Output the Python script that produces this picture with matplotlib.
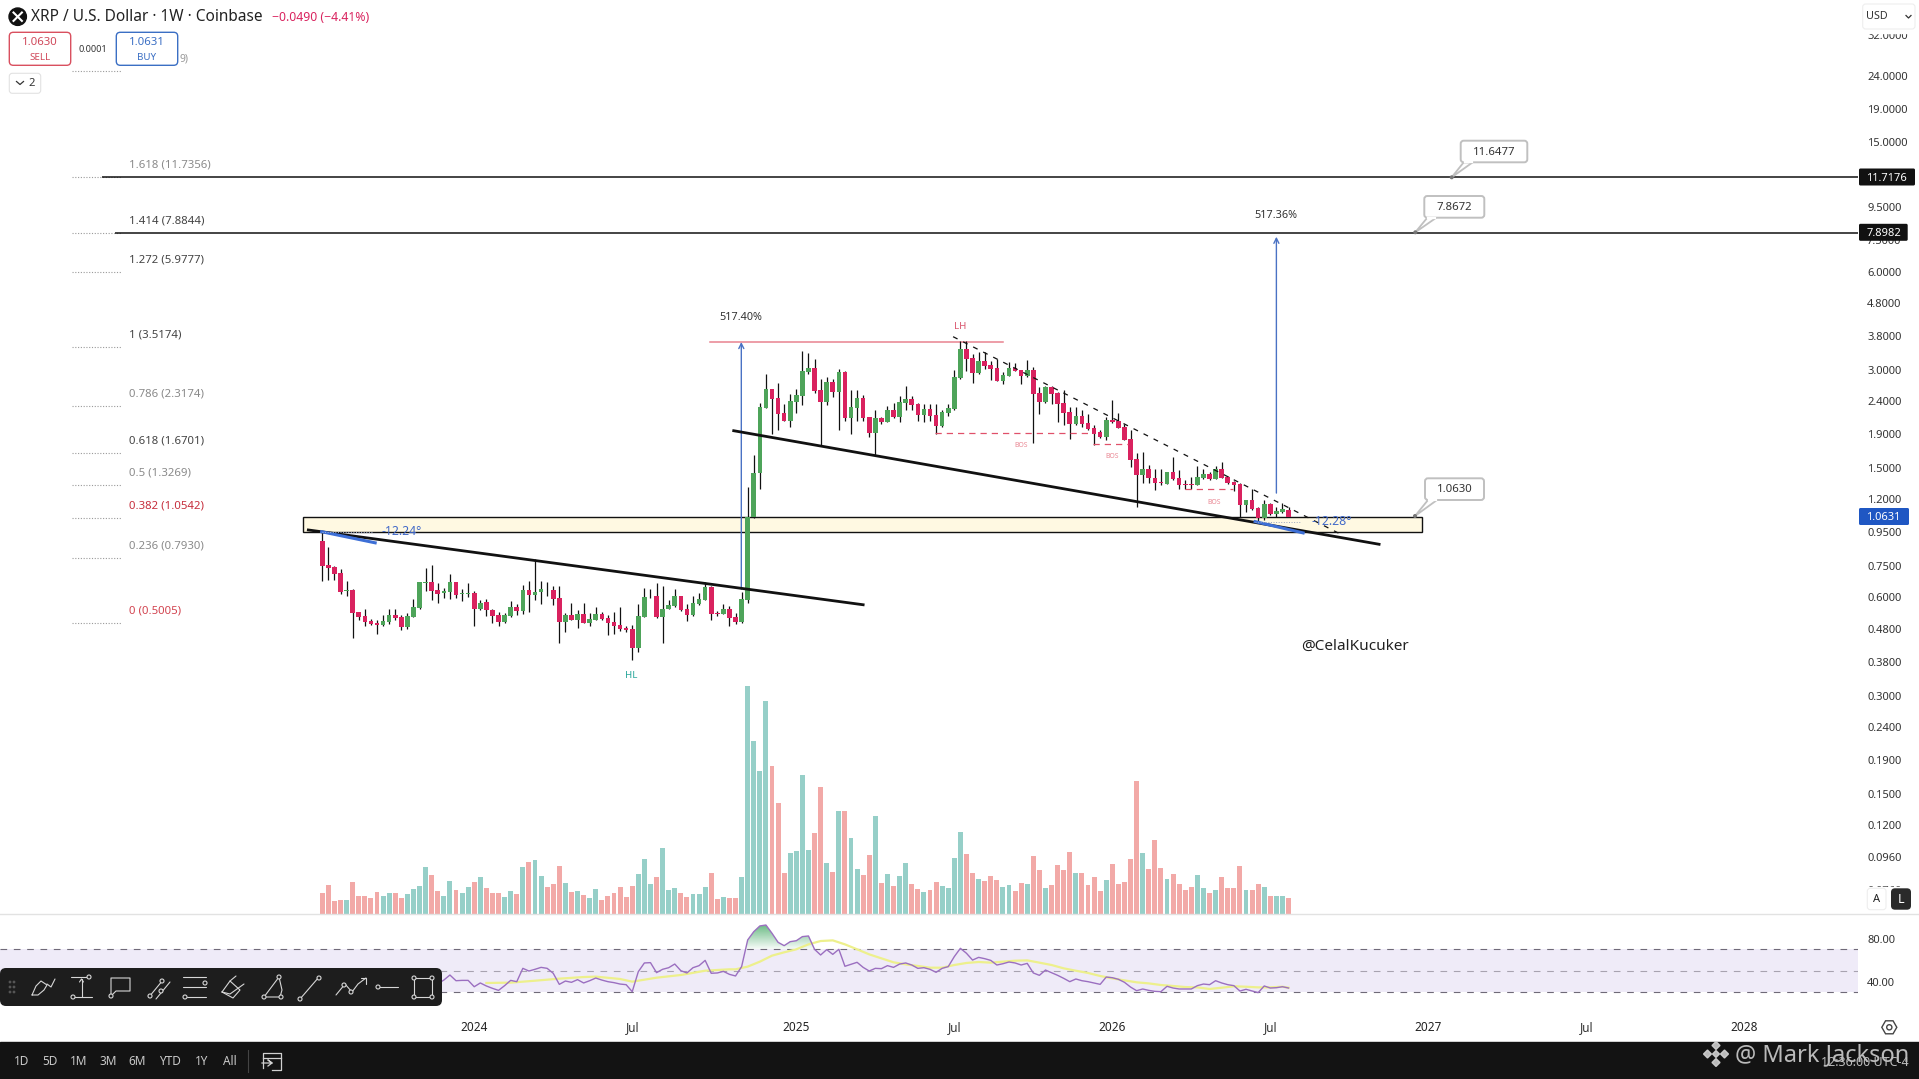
import numpy as np
import matplotlib
matplotlib.use('Agg')
import matplotlib.pyplot as plt
import matplotlib.ticker as ticker
from matplotlib.patches import FancyBboxPatch, Rectangle, Circle, Polygon, RegularPolygon
from matplotlib.path import Path

plt.rcParams['font.family'] = ['Noto Sans', 'DejaVu Sans']

# weekly candles
candle_open = [
    .894, .755, .746, .711, .629, .632, .541, .526, .508, .501,
    .494, .505, .530, .524, .487, .524, .557, .666, .669, .632,
    .619, .623, .669, .616, .616, .619, .552, .581, .549, .530,
    .505, .526, .561, .545, .632, .610, .622, .639, .632, .597,
    .506, .530, .512, .533, .502, .512, .533, .519, .505, .493,
    .483, .480, .421, .522, .601, .606, .522, .553, .565, .606,
    .552, .530, .572, .589, .647, .537, .533, .553, .522, .505,
    .589, 1.057, 1.443, 2.295, 2.62, 2.457, 2.204, 2.088, 2.388, 2.49,
    2.95, 3.036, 2.60, 2.388, 2.75, 2.56, 2.95, 2.133, 2.29, 2.457,
    2.148, 1.918, 2.133, 2.073, 2.257, 2.148, 2.372, 2.44, 2.354, 2.178,
    2.273, 2.178, 2.016, 2.21, 2.273, 2.83, 3.475, 3.26, 2.93, 3.19,
    3.10, 3.036, 2.77, 2.87, 3.036, 2.994, 2.87, 2.994, 2.545, 2.388,
    2.655, 2.545, 2.372, 2.225, 2.044, 2.163, 2.059, 1.987, 1.932, 1.865,
    2.103, 2.088, 2.0, 1.84, 1.596, 1.426, 1.487, 1.40, 1.361, 1.34,
    1.456, 1.394, 1.34, 1.34, 1.33, 1.394, 1.436, 1.385, 1.487, 1.405,
    1.356, 1.341, 1.153, 1.195, 1.13, 1.052, 1.16, 1.085, 1.097, 1.1125,
]
candle_high = [
    .962, .859, .751, .732, .674, .635, .542, .553, .514, .512,
    .529, .553, .553, .530, .536, .593, .671, .737, .755, .663,
    .640, .706, .669, .637, .663, .628, .589, .593, .555, .542,
    .536, .585, .575, .655, .674, .789, .674, .671, .650, .650,
    .539, .578, .549, .578, .536, .561, .542, .530, .542, .561,
    .490, .493, .572, .642, .635, .663, .650, .589, .637, .606,
    .575, .606, .618, .668, .650, .545, .572, .565, .539, .625,
    1.313, 1.642, 2.366, 2.91, 2.62, 2.725, 2.35, 2.527, 2.62, 3.434,
    3.386, 3.235, 2.81, 2.85, 2.81, 3.014, 2.974, 2.60, 2.60, 2.51,
    2.153, 2.257, 2.153, 2.322, 2.372, 2.49, 2.675, 2.49, 2.366, 2.354,
    2.354, 2.354, 2.257, 2.354, 2.994, 3.677, 3.677, 3.355, 3.40, 3.40,
    3.19, 3.235, 2.95, 3.168, 3.145, 2.994, 3.213, 3.058, 2.655, 2.675,
    2.675, 2.56, 2.60, 2.30, 2.30, 2.257, 2.194, 2.03, 1.959, 2.148,
    2.422, 2.214, 2.044, 1.959, 1.662, 1.673, 1.53, 1.484, 1.484, 1.456,
    1.62, 1.477, 1.376, 1.409, 1.519, 1.484, 1.46, 1.519, 1.563, 1.416,
    1.366, 1.35, 1.195, 1.295, 1.14, 1.195, 1.167, 1.14, 1.17, 1.134,
]
candle_low = [
    .676, .679, .679, .613, .606, .450, .510, .490, .493, .465,
    .490, .498, .512, .477, .481, .524, .554, .629, .589, .578,
    .596, .595, .596, .586, .603, .492, .549, .527, .502, .490,
    .500, .521, .530, .533, .542, .589, .572, .606, .569, .436,
    .471, .512, .482, .500, .490, .510, .512, .460, .463, .474,
    .469, .387, .408, .522, .596, .519, .436, .553, .562, .547,
    .508, .526, .568, .589, .512, .526, .533, .490, .498, .501,
    .578, 1.05, 1.291, 2.295, 1.905, 1.959, 2.088, 2.006, 2.204, 2.334,
    2.91, 2.539, 1.754, 2.34, 2.469, 1.959, 2.088, 1.905, 2.088, 2.088,
    1.86, 1.638, 2.044, 2.073, 2.133, 2.073, 2.257, 2.257, 2.088, 2.073,
    2.088, 1.905, 2.0, 2.163, 2.257, 2.81, 2.974, 2.73, 2.91, 3.014,
    2.79, 2.77, 2.71, 2.87, 2.974, 2.71, 2.856, 1.787, 2.194, 2.372,
    2.354, 2.073, 2.03, 1.84, 2.03, 2.006, 1.959, 1.762, 1.847, 1.826,
    2.054, 1.987, 1.826, 1.505, 1.134, 1.344, 1.344, 1.282, 1.33, 1.34,
    1.376, 1.295, 1.291, 1.29, 1.33, 1.385, 1.376, 1.385, 1.394, 1.34,
    1.273, 1.062, 1.097, 1.113, 1.013, 1.037, 1.075, 1.062, 1.09, 1.06,
]
candle_close = [
    .751, .738, .708, .623, .632, .539, .524, .505, .498, .495,
    .508, .530, .518, .488, .526, .561, .669, .669, .629, .616,
    .628, .669, .610, .619, .619, .553, .579, .549, .527, .505,
    .530, .561, .545, .631, .610, .622, .637, .635, .593, .505,
    .530, .513, .533, .502, .515, .533, .515, .501, .490, .480,
    .477, .421, .526, .601, .604, .522, .555, .569, .606, .550,
    .530, .577, .593, .646, .533, .535, .553, .519, .505, .593,
    1.057, 1.443, 2.30, 2.62, 2.44, 2.194, 2.088, 2.405, 2.51, 2.973,
    3.036, 2.582, 2.388, 2.75, 2.56, 2.95, 2.133, 2.305, 2.457, 2.133,
    1.918, 2.133, 2.073, 2.257, 2.148, 2.388, 2.44, 2.34, 2.178, 2.273,
    2.163, 2.016, 2.225, 2.29, 2.85, 3.475, 3.235, 2.93, 3.19, 3.08,
    3.014, 2.77, 2.89, 3.036, 2.974, 2.875, 2.994, 2.527, 2.388, 2.655,
    2.527, 2.354, 2.21, 2.044, 2.163, 2.044, 1.973, 1.905, 1.865, 2.103,
    2.073, 1.987, 1.826, 1.585, 1.426, 1.487, 1.394, 1.347, 1.344, 1.456,
    1.385, 1.33, 1.33, 1.33, 1.405, 1.436, 1.385, 1.487, 1.394, 1.347,
    1.33, 1.153, 1.195, 1.125, 1.052, 1.16, 1.082, 1.104, 1.125, 1.063,
]
volume = [
    64, 87, 39, 42, 42, 96, 54, 54, 48, 66,
    54, 63, 63, 48, 60, 75, 84, 141, 117, 69,
    54, 99, 72, 63, 81, 96, 111, 78, 63, 63,
    51, 69, 60, 141, 156, 162, 114, 81, 90, 144,
    93, 66, 69, 57, 48, 75, 42, 54, 63, 81,
    51, 84, 120, 165, 90, 111, 198, 72, 78, 63,
    51, 60, 60, 81, 123, 45, 51, 48, 48, 111,
    684, 519, 429, 639, 444, 333, 123, 183, 189, 417,
    192, 243, 381, 153, 126, 309, 309, 228, 135, 117,
    177, 294, 93, 120, 84, 114, 153, 90, 75, 66,
    72, 96, 84, 78, 168, 246, 180, 123, 105, 99,
    114, 102, 81, 87, 69, 93, 90, 174, 132, 78,
    87, 147, 132, 186, 123, 123, 87, 111, 69, 102,
    150, 90, 96, 165, 399, 183, 135, 222, 138, 105,
    120, 90, 72, 81, 117, 78, 63, 72, 111, 78,
    78, 144, 72, 72, 90, 81, 54, 54, 54, 48,
]
# RSI starts at bar 14, the first few weeks sit behind the drawing toolbar
rsi_start_bar = 14
rsi_values = [
    42, 44, 45, 47, 40, 38,
    41.4, 46.1, 40.8, 41.1, 41.1, 35.2, 38.7, 35.9, 33.7, 31.8,
    36.2, 41.1, 39.9, 52.3, 49.8, 51.4, 53.2, 52.3, 47.7, 37.4,
    40.5, 39.3, 41.8, 38.7, 40.8, 43.3, 41.4, 39.9, 39.0, 37.7,
    37.1, 30.6, 49.2, 57.3, 57.6, 48.3, 51.4, 52.9, 56.3, 50.1,
    48.0, 52.9, 54.8, 59.7, 47.7, 48.0, 49.5, 46.7, 45.2, 53.9,
    78.7, 86.4, 91.7, 92.6, 84.9, 76.5, 73.4, 77.1, 78.0, 81.8,
    82.4, 70.0, 64.7, 69.7, 65.3, 70.0, 54.2, 56.0, 57.9, 53.2,
    49.8, 52.3, 52.0, 54.8, 53.2, 56.3, 57.3, 55.4, 52.3, 52.9,
    51.4, 48.6, 52.3, 53.9, 63.2, 70.9, 66.3, 60.0, 62.5, 61.3,
    59.7, 55.4, 56.6, 58.2, 57.3, 55.4, 56.9, 48.0, 45.8, 50.7,
    48.3, 45.8, 43.0, 39.9, 42.4, 40.8, 39.9, 38.7, 37.4, 44.2,
    43.6, 42.1, 39.3, 34.9, 31.5, 33.1, 31.8, 30.9, 30.6, 35.6,
    34.0, 33.1, 33.1, 33.1, 36.2, 37.7, 37.1, 40.8, 38.7, 37.1,
    36.2, 31.2, 32.8, 31.2, 29.7, 35.9, 34.0, 34.3, 35.2, 34.0,
]
rsi_ma_bars = [
    27, 31, 35, 39, 43, 45, 49, 51, 55, 59, 63, 67, 68, 70, 72, 74, 76, 78, 80, 82,
    84, 86, 88, 90, 92, 94, 96, 98, 100, 102, 104, 106, 108, 110, 112, 114, 116, 118, 120, 122,
    124, 126, 128, 130, 132, 134, 136, 138, 140, 142, 144, 146, 148, 150, 152, 154, 156, 158, 159,
]
rsi_ma_values = [
    38.7, 39.0, 40.8, 42.7, 44.2, 44.6, 42.4, 39.9, 43.6, 46.1, 50.1, 51.4, 51.4, 53.9, 58.5, 64.1, 67.2, 70.0, 74.6, 77.7,
    78.3, 74.6, 70.0, 65.3, 61.6, 57.9, 56.0, 54.5, 52.9, 52.9, 55.4, 57.3, 58.2, 57.6, 58.5, 59.4, 59.7, 57.6, 55.4, 52.3,
    50.1, 48.0, 45.2, 43.0, 41.1, 39.3, 38.3, 36.8, 35.9, 34.9, 34.6, 33.1, 34.3, 35.6, 35.2, 34.6, 34.6, 35.2, 34.3,
]

price_ticks = [32, 24, 19, 15, 9.5, 7.5, 6, 4.8, 3.8, 3, 2.4, 1.9, 1.5, 1.2, 0.95, 0.75, 0.6, 0.48,
               0.38, 0.3, 0.24, 0.19, 0.15, 0.12, 0.096, 0.076]
rsi_ticks = [80, 40]
time_tick_bars = [25, 51, 78, 104, 130, 156, 182, 208, 234]
time_tick_labels = ['2024', 'Jul', '2025', 'Jul', '2026', 'Jul', '2027', 'Jul', '2028']

fib_labels = ['1.618 (11.7356)', '1.414 (7.8844)', '1.272 (5.9777)', '1 (3.5174)', '0.786 (2.3174)',
              '0.618 (1.6701)', '0.5 (1.3269)', '0.382 (1.0542)', '0.236 (0.7930)', '0 (0.5005)']
fib_prices = [11.7356, 7.8844, 5.9777, 3.5174, 2.3174, 1.6701, 1.3269, 1.0542, 0.7930, 0.5005]
fib_colors = ['#8a8a8a', '#444444', '#444444', '#444444', '#8a8a8a', '#444444', '#8a8a8a', '#c62f3d', '#8a8a8a', '#d2434f']

RED = '#d9225f'
GREEN = '#4ea45a'
VOL_RED = '#f2a9a7'
VOL_GREEN = '#96cfc8'
BLUE = '#4a72c4'

# one week is 6.077 px, first bar at x=322.3
BAR_PX = 6.077
X_LEFT = -322.3 / BAR_PX
X_RIGHT = (1858 - 322.3) / BAR_PX
PRICE_TOP = 40.93
PRICE_BOTTOM = 0.06408

fig = plt.figure(figsize=(19.19, 10.79), dpi=100, facecolor='white')


def add_px_axes(top, bottom, right=1858):
    return fig.add_axes([0, 1 - bottom / 1079, right / 1919, (bottom - top) / 1079])


# volume, same x as the price pane
ax_vol = add_px_axes(0, 914)
bars = np.arange(len(candle_open))
is_up = np.array(candle_close) >= np.array(candle_open)
ax_vol.bar(bars, volume, width=0.8, color=[VOL_GREEN if u else VOL_RED for u in is_up], linewidth=0)
ax_vol.set_xlim(X_LEFT, X_RIGHT)
ax_vol.set_ylim(0, 914 * 3)
ax_vol.axis('off')

# price pane
ax = add_px_axes(0, 914)
ax.patch.set_alpha(0)
ax.set_yscale('log')
ax.set_xlim(X_LEFT, X_RIGHT)
ax.set_ylim(PRICE_BOTTOM, PRICE_TOP)
for s in ax.spines.values():
    s.set_visible(False)
ax.set_xticks([])
ax.yaxis.tick_right()
ax.yaxis.set_major_locator(ticker.FixedLocator(price_ticks))
ax.yaxis.set_minor_locator(ticker.NullLocator())
ax.yaxis.set_major_formatter(ticker.FuncFormatter(lambda v, p: '%.4f' % v))
ax.tick_params(axis='y', length=0, pad=6.5, labelsize=8, labelcolor='#333333')

# fib levels
ax.hlines(fib_prices, -41.2, -33, colors='#9a9a9a', linestyles=(0, (1, 1.5)), linewidth=0.8)
ax.hlines(24.8, -41.2, -33, colors='#9a9a9a', linestyles=(0, (1, 1.5)), linewidth=0.8)
for label_txt, price, col in zip(fib_labels, fib_prices, fib_colors):
    ax.annotate(label_txt, xy=(-31.8, price), xytext=(0, 8.6), textcoords='offset points', fontsize=8.2, color=col,
                va='center', ha='left', fontweight='bold' if label_txt.startswith('0.382') else 'normal')

# horizontal targets
ax.hlines(11.7176, -36.3, X_RIGHT, colors='#111111', linewidth=1.1, zorder=2)
ax.hlines(7.8982, -34.1, X_RIGHT, colors='#111111', linewidth=1.1, zorder=2)

# support zone
ax.add_patch(Rectangle((-3.1, 0.955), 184, 1.057 - 0.955, facecolor='#fff9e2', edgecolor='#111111', linewidth=1.0, zorder=1))

# candles
ax.vlines(bars, candle_low, candle_high, colors='#111111', linewidth=0.9, zorder=3)
body_low = np.minimum(candle_open, candle_close)
body_high = np.maximum(candle_open, candle_close)
ax.bar(bars, body_high - body_low, bottom=body_low, width=0.76, linewidth=0,
       color=[GREEN if u else RED for u in is_up], zorder=4)

# wedge lines
ax.plot([-2.3, 89.0], [0.967, 0.570], color='#111111', linewidth=2.0, zorder=5)
ax.plot([67.7, 173.9], [1.95, 0.874], color='#111111', linewidth=2.0, zorder=5)
ax.plot([103.8, 167.5], [3.79, 0.94], color='#111111', linewidth=0.9, linestyle=(0, (4, 5)), zorder=5)

# LH line and BOS levels
ax.plot([63.8, 112], [3.65, 3.65], color='#e8828f', linewidth=1.1, zorder=2)
ax.plot([100.9, 126.9], [1.915, 1.915], color='#e0506a', linewidth=0.9, linestyle=(0, (5, 4)), zorder=5)
ax.plot([126.9, 132.6], [1.771, 1.771], color='#e0506a', linewidth=0.9, linestyle=(0, (5, 4)), zorder=5)
ax.plot([142, 149.9], [1.291, 1.291], color='#e0506a', linewidth=0.9, linestyle=(0, (5, 4)), zorder=5)

# measure arrows
for bar_x, low, high in [(68.95, 0.636, 3.65), (157, 1.255, 7.68)]:
    ax.annotate('', xy=(bar_x, high), xytext=(bar_x, low), zorder=3,
                arrowprops=dict(arrowstyle='->', color=BLUE, lw=1.0, mutation_scale=9, shrinkA=0, shrinkB=0))

# angle tools
ax.plot([-0.1, 8.7], [0.955, 0.883], color='#3d6fd6', linewidth=2.2, zorder=6)
ax.plot([-0.1, 8.2], [0.955, 0.955], color='#a9b6d6', linewidth=0.7, linestyle=':', zorder=6)
ax.plot([153.5, 161.4], [1.026, 0.947], color='#3d6fd6', linewidth=2.2, zorder=6)
ax.plot([153.5, 160.9], [1.026, 1.026], color='#9aa5c0', linewidth=0.7, linestyle=':', zorder=6)

# RSI pane
ax_rsi = add_px_axes(915, 1012)
ax_rsi.set_xlim(X_LEFT, X_RIGHT)
ax_rsi.patch.set_alpha(0)
for s in ax_rsi.spines.values():
    s.set_visible(False)
rsi_bars = np.arange(rsi_start_bar, rsi_start_bar + len(rsi_values))
ax_rsi.axhspan(30, 70, color='#efebf8', linewidth=0, zorder=1)
ax_rsi.hlines([70, 50, 30], X_LEFT, X_RIGHT, colors=['#6f6a78', '#a8a3b0', '#6f6a78'], linewidth=0.8,
              linestyles=(0, (6, 6)), zorder=2)
fill = ax_rsi.fill_between(rsi_bars, 70, rsi_values, where=np.array(rsi_values) >= 70, interpolate=True,
                           color='none', linewidth=0)
grad = np.zeros((64, 2, 4))
grad[:, :, 0] = 0.30
grad[:, :, 1] = 0.68
grad[:, :, 2] = 0.42
grad[:, :, 3] = np.linspace(0.85, 0.05, 64)[:, None]
img = ax_rsi.imshow(grad, extent=(X_LEFT, X_RIGHT, 70, 93), origin='upper', aspect='auto', zorder=2)
img.set_clip_path(Path.make_compound_path(*fill.get_paths()), transform=ax_rsi.transData)
ax_rsi.plot(rsi_ma_bars, rsi_ma_values, color='#edf08c', linewidth=1.6, zorder=3)
ax_rsi.plot(rsi_bars, rsi_values, color='#9b6fc0', linewidth=1.0, zorder=4)
ax_rsi.set_xlim(X_LEFT, X_RIGHT)
ax_rsi.set_ylim(11.7, 101.9)
ax_rsi.yaxis.tick_right()
ax_rsi.set_yticks(rsi_ticks)
ax_rsi.set_yticklabels(['%.2f' % v for v in rsi_ticks])
ax_rsi.set_xticks(time_tick_bars)
ax_rsi.set_xticklabels(time_tick_labels)
ax_rsi.tick_params(axis='y', length=0, pad=6.5, labelsize=8, labelcolor='#333333')
ax_rsi.tick_params(axis='x', length=0, pad=6.3, labelsize=8.5, labelcolor='#333333')
for lab in ax_rsi.get_xticklabels():
    if lab.get_text() != 'Jul':
        lab.set_fontweight('bold')
        lab.set_color('#222222')

# everything below is drawn in image pixels
ui = fig.add_axes([0, 0, 1, 1], zorder=10)
ui.set_xlim(0, 1919)
ui.set_ylim(1079, 0)
ui.axis('off')
ui.patch.set_alpha(0)


def label(x, y, s, size=8, color='#333333', ha='center', weight='normal', **kw):
    # va center sits a little high for these fonts
    ui.text(x, y + 1.2, s, fontsize=size, color=color, ha=ha, va='center', fontweight=weight, **kw)


def round_box(x0, y0, x1, y1, face='white', edge='none', lw=1.0, r=3, z=2):
    ui.add_patch(FancyBboxPatch((x0, y0), x1 - x0, y1 - y0, boxstyle='round,pad=0,rounding_size=%s' % r,
                                facecolor=face, edgecolor=edge, linewidth=lw, zorder=z))


# chart annotations
label(740.5, 316, '517.40%', 7.8)
label(1275.7, 214, '517.36%', 7.8)
label(960, 325.7, 'LH', 7, '#d9546c')
label(631.3, 674.7, 'HL', 7, '#26a69a')
label(1020.7, 444.3, 'BOS', 5, '#ea8a96')
label(1111.7, 455.3, 'BOS', 5, '#ea8a96')
label(1214.3, 501.3, 'BOS', 5, '#ea8a96')
label(1355, 645, '@CelalKucuker', 11, '#222222')
label(401.7, 530.2, '-12.24°', 8.8, '#4169c8')
label(1331.7, 520.2, '-12.28°', 8.8, '#4169c8')

# callouts
for x0, y0, x1, y1, tipx, tipy, txt in [(1425, 478.3, 1484, 500, 1415, 516, '1.0630'),
                                        (1460.7, 140.7, 1527.3, 162.3, 1451.7, 177.3, '11.6477'),
                                        (1424.3, 196, 1484.3, 217.7, 1415.3, 232.3, '7.8672')]:
    ui.add_patch(Polygon([(x0 + 3, y1), (x0 + 12, y1), (tipx, tipy)], closed=True, facecolor='white',
                         edgecolor='#c0c0c0', linewidth=1.3, zorder=2))
    round_box(x0, y0, x1, y1, 'white', '#c0c0c0', 1.4)
    ui.plot([x0 + 4, x0 + 11], [y1, y1], color='white', linewidth=1.6, zorder=3)
    ui.add_patch(Circle((tipx, tipy), 1.3, color='#777777', zorder=3))
    label((x0 + x1) / 2, (y0 + y1) / 2 - 0.5, txt, 8.2, '#333333', weight='bold', zorder=4)

# header
ui.add_patch(Circle((17.7, 16.7), 8.7, color='#111111', zorder=2))
ui.plot([13.5, 21.9], [12.5, 20.9], color='white', linewidth=1.5, zorder=3)
ui.plot([13.5, 21.9], [20.9, 12.5], color='white', linewidth=1.5, zorder=3)
label(31, 16, 'XRP / U.S. Dollar · 1W · Coinbase', 11.1, '#222222', ha='left')
label(272, 16, '\u22120.0490 (\u22124.41%)', 8.8, '#d9245f', ha='left')
label(184, 58, '9)', 7.5, '#9a9a9a', ha='center')
round_box(9.3, 32.3, 70.7, 65.3, 'white', '#d9505f', 1.0, 4)
label(40, 41.5, '1.0630', 8.2, '#d0485a')
label(40, 56, 'SELL', 7, '#d0485a')
label(93, 48.7, '0.0001', 6.5, '#333333')
round_box(116.3, 32.3, 177.7, 65.3, 'white', '#3b6fc4', 1.0, 4)
label(147, 41.5, '1.0631', 8.2, '#3b6fc4')
label(147, 56, 'BUY', 7, '#3b6fc4')
round_box(9.3, 73.3, 40.7, 93.3, 'white', '#e2e2e2', 0.8, 3)
ui.plot([16.5, 20, 23.5], [81.5, 84.5, 81.5], color='#333333', linewidth=0.9, zorder=3)
label(32, 82, '2', 8, '#333333', zorder=3)

# price scale widgets, the top tick label runs under the USD button
ui.add_patch(Rectangle((1860, 0), 59, 32.5, color='white', zorder=1))
round_box(1862.7, 4, 1915, 29, 'white', '#eeeeee', 0.8, 3, z=2)
label(1866, 15.5, 'USD', 7.8, '#333333', ha='left', zorder=3)
ui.plot([1906, 1908.5, 1911], [15.5, 18, 15.5], color='#333333', linewidth=0.9, zorder=3)
for y, x1, txt, col in [(177, 1915, '11.7176', '#111111'), (232.3, 1907.7, '7.8982', '#111111'),
                        (516.5, 1909, '1.0631', '#1f57c3')]:
    round_box(1859, y - 8.5, x1, y + 8.5, col, 'none', 0, 1.5)
    label(1866.5, y, txt, 8, 'white', ha='left', weight='bold', zorder=3)
ui.add_patch(Rectangle((1860, 887), 59, 27, color='white', zorder=1))
round_box(1867.3, 888.3, 1886, 909.7, 'white', '#eeeeee', 0.8, 3)
label(1876.7, 898, 'A', 8, '#222222', zorder=3)
round_box(1891, 888.3, 1911, 909.7, '#2a2a2a', 'none', 0, 4)
label(1901, 898, 'L', 9, 'white', zorder=3)
ui.plot([0, 1919], [914.3, 914.3], color='#e2e2e2', linewidth=1.0, zorder=1)
ui.add_patch(RegularPolygon((1889.3, 1027.3), 6, radius=7.5, orientation=np.pi / 6, facecolor='white',
                            edgecolor='#444444', linewidth=1.0, zorder=2))
ui.add_patch(Circle((1889.3, 1027.3), 2.6, facecolor='white', edgecolor='#444444', linewidth=1.0, zorder=3))

# bottom bar
ui.add_patch(Rectangle((0, 1041.5), 1919, 38, color='#131313', zorder=1))
for x, txt in zip([22, 50, 79, 108, 137.5, 170, 202, 230], ['1D', '5D', '1M', '3M', '6M', 'YTD', '1Y', 'All']):
    label(x, 1060, txt, 8.5, '#c9c9c9', zorder=2)
ui.plot([248, 248], [1050, 1072], color='#444444', linewidth=0.8, zorder=2)
ui.plot([263, 263, 281, 281, 272], [1068, 1053, 1053, 1070, 1070], color='#d0d0d0', linewidth=0.9, zorder=2)
ui.plot([263, 281], [1058, 1058], color='#d0d0d0', linewidth=0.9, zorder=2)
ui.plot([262, 272, 268, 272, 268], [1063, 1063, 1060, 1063, 1066], color='#d0d0d0', linewidth=0.9, zorder=2)
label(1909, 1054, '@ Mark Jackson', 17, '#d8d8d8', ha='right', alpha=0.85, zorder=3)
label(1909, 1061, '12:36:00 UTC-4', 9, '#bdbdbd', ha='right', zorder=4)
for dx, dy, r in [(0, -8.5, 4), (-8.5, 0, 4), (8.5, 0, 4), (0, 8.5, 4), (0, 0, 3.5)]:
    ui.add_patch(RegularPolygon((1716 + dx, 1054 + dy), 4, radius=r, color='#d8d8d8', alpha=0.85, zorder=3))

# drawing toolbar
round_box(0, 968, 442, 1006, '#1d1d1d', 'none', 0, 6, z=4)
ICON = '#d6d6d6'


def seg(xs, ys, lw=0.8):
    ui.plot(xs, ys, color=ICON, linewidth=lw, zorder=5, solid_capstyle='round')


def node(x, y):
    ui.add_patch(Circle((x, y), 2.0, facecolor='#1d1d1d', edgecolor=ICON, linewidth=0.8, zorder=6))


for gx in [10, 14]:
    for gy in [982, 987, 992]:
        ui.add_patch(Circle((gx, gy), 0.7, color='#555555', zorder=5))
# brush
seg([32, 38, 44, 47, 41, 36, 32], [995, 995, 990, 985, 981, 986, 995])
seg([47, 51, 55], [984, 987, 979])
# fixed range
seg([71, 90], [977, 977])
seg([73, 92], [997, 997])
seg([81.5, 81.5], [979, 997])
seg([79.5, 81.5, 83.5], [982, 979, 982])
node(89, 977)
node(73, 997)
# callout
seg([111, 111, 130, 130, 116, 111], [996, 978, 978, 991, 991, 996])
node(111, 996)
# parallel
seg([149, 163], [997, 980])
seg([156, 170], [999, 982])
node(150, 996)
node(162, 981)
node(161, 991)
# lines
seg([183, 206], [977, 977])
seg([183, 206], [987, 987])
seg([187, 206], [997, 997])
node(205, 983)
node(185, 997)
# eraser/fib brush
seg([222, 230, 244], [992, 994, 984])
seg([222, 230, 240, 233, 222], [992, 981, 990, 998, 992])
seg([230, 236], [981, 976])
# shape
seg([264, 279, 282, 280, 264], [997, 977, 990, 997, 997])
node(264, 997)
node(279, 977)
node(281, 997)
# trend line
seg([300, 319], [999, 977])
node(300, 999)
node(319, 978)
# path
seg([336, 345, 352, 358, 366], [995, 984, 992, 984, 978])
node(344, 985)
node(351, 992)
seg([361, 366, 366], [978, 978, 984])
# horizontal ray
seg([378, 398], [987, 987])
node(378, 987)
# box
seg([414, 432, 432, 414, 414], [978, 978, 997, 997, 978])
for nx, ny in [(414, 978), (432, 978), (414, 997), (432, 997)]:
    node(nx, ny)

fig.savefig('out.png', dpi=100)
